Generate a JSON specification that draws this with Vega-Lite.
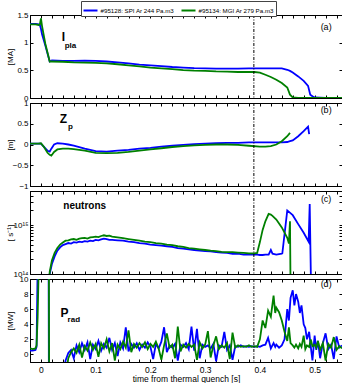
{
"$schema": "https://vega.github.io/schema/vega-lite/v6.json",
"padding": {"left": 5, "top": 0, "right": 0, "bottom": 0},
"spacing": 5,
"bounds": "flush",
"config": {
 "font": "Liberation Sans",
 "view": {"stroke": "black", "strokeWidth": 1},
 "axis": {"grid": false, "labelFont": "Liberation Sans", "labelFontSize": 8, "labelColor": "black", "tickColor": "black", "domainColor": "black", "tickSize": -3, "labelPadding": 5, "titleFont": "Liberation Sans", "titleFontSize": 8, "titleFontWeight": "normal", "titleColor": "black", "format": "~r"},
 "legend": {"orient": "none", "legendX": 51, "legendY": -14, "direction": "horizontal", "title": null, "symbolType": "stroke", "symbolSize": 196, "symbolStrokeWidth": 2, "labelFont": "Liberation Sans", "labelFontSize": 6.2, "labelColor": "black", "labelLimit": 300, "strokeColor": "#444", "fillColor": "white", "padding": 1.5, "columnPadding": 3, "labelOffset": 2}
},
"datasets": {
 "one": [{}],
 "ip": [
  {"t":-0.02,"b":1.34,"g":1.33},{"t":-0.01,"b":1.34,"g":1.33},{"t":-0.004,"b":1.33,"g":1.32},{"t":-0.002,"b":1.32,"g":1.33},
  {"t":0.0,"b":1.25,"g":1.44},{"t":0.002,"b":1.15,"g":1.3},{"t":0.008,"b":0.95,"g":0.98},{"t":0.016,"b":0.66,"g":0.66},
  {"t":0.02,"b":0.68,"g":0.66},{"t":0.04,"b":0.67,"g":0.655},{"t":0.06,"b":0.67,"g":0.645},{"t":0.08,"b":0.675,"g":0.64},
  {"t":0.1,"b":0.67,"g":0.635},{"t":0.12,"b":0.66,"g":0.625},{"t":0.14,"b":0.645,"g":0.61},{"t":0.16,"b":0.625,"g":0.59},
  {"t":0.18,"b":0.605,"g":0.57},{"t":0.2,"b":0.59,"g":0.55},{"t":0.22,"b":0.575,"g":0.535},{"t":0.24,"b":0.56,"g":0.52},
  {"t":0.26,"b":0.55,"g":0.505},{"t":0.28,"b":0.54,"g":0.495},{"t":0.3,"b":0.535,"g":0.49},{"t":0.32,"b":0.53,"g":0.48},
  {"t":0.34,"b":0.53,"g":0.475},{"t":0.36,"b":0.53,"g":0.47},{"t":0.38,"b":0.535,"g":0.47},{"t":0.39,"b":0.535,"g":0.47},
  {"t":0.4,"b":0.535,"g":0.46},{"t":0.41,"b":0.535,"g":0.42},{"t":0.42,"b":0.535,"g":0.38},{"t":0.43,"b":0.535,"g":0.33},
  {"t":0.44,"b":0.535,"g":0.27},{"t":0.45,"b":0.51,"g":0.19},{"t":0.455,"b":0.49,"g":0.06},{"t":0.46,"b":0.46,"g":0.01},
  {"t":0.47,"b":0.39,"g":0},{"t":0.48,"b":0.31,"g":0},{"t":0.488,"b":0.22,"g":0},{"t":0.492,"b":0.06,"g":0},
  {"t":0.496,"b":0.03,"g":0},{"t":0.5,"b":0.01,"g":0},{"t":0.52,"b":0,"g":0},{"t":0.55,"b":0,"g":0}
 ],
 "zp": [
  {"t":-0.02,"b":0.02,"g":0.02},{"t":-0.005,"b":0.02,"g":0.02},{"t":0.0,"b":0.02,"g":0.03},{"t":0.005,"b":-0.05,"g":-0.05},
  {"t":0.012,"b":-0.15,"g":-0.2},{"t":0.016,"b":-0.17,"g":-0.25},{"t":0.019,"b":-0.1,"g":-0.27},{"t":0.024,"b":0.0,"g":-0.18},
  {"t":0.03,"b":0.03,"g":-0.12},{"t":0.04,"b":0.02,"g":-0.1},{"t":0.05,"b":0.0,"g":-0.1},{"t":0.06,"b":-0.03,"g":-0.11},
  {"t":0.08,"b":-0.1,"g":-0.15},{"t":0.1,"b":-0.16,"g":-0.2},{"t":0.12,"b":-0.17,"g":-0.21},{"t":0.14,"b":-0.15,"g":-0.2},
  {"t":0.16,"b":-0.13,"g":-0.18},{"t":0.18,"b":-0.1,"g":-0.15},{"t":0.2,"b":-0.08,"g":-0.12},{"t":0.22,"b":-0.05,"g":-0.09},
  {"t":0.24,"b":-0.03,"g":-0.06},{"t":0.26,"b":-0.01,"g":-0.04},{"t":0.28,"b":0.01,"g":-0.02},{"t":0.3,"b":0.02,"g":-0.01},
  {"t":0.32,"b":0.03,"g":0.0},{"t":0.34,"b":0.04,"g":0.0},{"t":0.36,"b":0.04,"g":-0.01},{"t":0.38,"b":0.05,"g":-0.03},
  {"t":0.4,"b":0.05,"g":-0.05},{"t":0.41,"b":0.05,"g":-0.05},{"t":0.42,"b":0.05,"g":-0.04},{"t":0.43,"b":0.05,"g":0.0},
  {"t":0.44,"b":0.05,"g":0.08},{"t":0.45,"b":0.06,"g":0.2},{"t":0.455,"b":0.08,"g":0.28},{"t":0.46,"b":0.1},
  {"t":0.47,"b":0.2},{"t":0.48,"b":0.32},{"t":0.488,"b":0.43},{"t":0.49,"b":0.25}
 ],
 "ne": [
  {"t":0.014,"b":5e13,"g":5e13},{"t":0.016,"b":1.0e14,"g":1.1e14},{"t":0.02,"b":1.6e14,"g":1.9e14},{"t":0.025,"b":2.3e14,"g":2.7e14},
  {"t":0.03,"b":3.0e14,"g":3.4e14},{"t":0.035,"b":3.5e14,"g":4.0e14},{"t":0.04,"b":3.9e14,"g":4.4e14},{"t":0.045,"b":4.1e14,"g":4.8e14},
  {"t":0.05,"b":4.3e14,"g":4.9e14},{"t":0.055,"b":4.2e14,"g":5.1e14},{"t":0.06,"b":4.5e14,"g":5.2e14},{"t":0.065,"b":4.4e14,"g":5.0e14},
  {"t":0.07,"b":4.6e14,"g":5.3e14},{"t":0.075,"b":4.5e14,"g":5.4e14},{"t":0.08,"b":4.7e14,"g":5.5e14},{"t":0.085,"b":4.6e14,"g":5.3e14},
  {"t":0.09,"b":4.8e14,"g":5.6e14},{"t":0.095,"b":4.7e14,"g":5.7e14},{"t":0.1,"b":5.0e14,"g":5.8e14},{"t":0.105,"b":4.9e14,"g":5.7e14},
  {"t":0.11,"b":5.1e14,"g":6.0e14},{"t":0.115,"b":5.3e14,"g":6.2e14},{"t":0.12,"b":5.2e14,"g":6.0e14},{"t":0.125,"b":5.0e14,"g":6.1e14},
  {"t":0.13,"b":5.0e14,"g":5.8e14},{"t":0.14,"b":4.9e14,"g":5.6e14},{"t":0.15,"b":4.8e14,"g":5.4e14},{"t":0.16,"b":4.6e14,"g":5.2e14},
  {"t":0.17,"b":4.5e14,"g":5.0e14},{"t":0.18,"b":4.3e14,"g":4.8e14},{"t":0.19,"b":4.2e14,"g":4.6e14},{"t":0.2,"b":4.0e14,"g":4.5e14},
  {"t":0.21,"b":3.9e14,"g":4.3e14},{"t":0.22,"b":3.8e14,"g":4.2e14},{"t":0.23,"b":3.7e14,"g":4.0e14},{"t":0.24,"b":3.6e14,"g":3.9e14},
  {"t":0.25,"b":3.4e14,"g":3.7e14},{"t":0.26,"b":3.3e14,"g":3.6e14},{"t":0.27,"b":3.2e14,"g":3.4e14},{"t":0.28,"b":3.1e14,"g":3.3e14},
  {"t":0.29,"b":3.0e14,"g":3.2e14},{"t":0.3,"b":2.95e14,"g":3.1e14},{"t":0.31,"b":2.9e14,"g":3.0e14},{"t":0.32,"b":2.8e14,"g":2.95e14},
  {"t":0.33,"b":2.75e14,"g":2.85e14},{"t":0.34,"b":2.7e14,"g":2.8e14},{"t":0.35,"b":2.6e14,"g":2.8e14},{"t":0.36,"b":2.6e14,"g":2.75e14},
  {"t":0.37,"b":2.5e14,"g":2.7e14},{"t":0.38,"b":2.5e14,"g":2.65e14},{"t":0.39,"b":2.5e14,"g":2.65e14},{"t":0.395,"b":2.5e14,"g":2.7e14},
  {"t":0.4,"b":2.45e14,"g":4.5e14},{"t":0.405,"b":2.45e14,"g":8e14},{"t":0.41,"b":2.5e14,"g":1.2e15},{"t":0.416,"b":2.5e14,"g":1.7e15},
  {"t":0.42,"b":3.1e14,"g":1.65e15},{"t":0.423,"b":2.6e14,"g":1.55e15},{"t":0.43,"b":2.5e14,"g":1.3e15},{"t":0.44,"b":2.6e14,"g":9e14},
  {"t":0.441,"b":2.65e14},{"t":0.45,"b":2.0e15,"g":5.5e14},{"t":0.453,"g":4.2e14},{"t":0.455,"g":1.2e15},{"t":0.456,"g":5e13},
  {"t":0.46,"b":1.6e15},{"t":0.47,"b":1.05e15},{"t":0.48,"b":7e14},{"t":0.489,"b":4.6e14},{"t":0.491,"b":2.7e15},{"t":0.4935,"b":5e13}
 ],
 "pr": [
  {"t":-0.02,"b":0.5,"g":0.8},{"t":-0.015,"b":0.5,"g":0.7},{"t":-0.01,"b":0.6,"g":0.8},{"t":-0.008,"b":1.0,"g":1.2},
  {"t":-0.006,"b":12,"g":5},{"t":-0.004,"b":12,"g":12},{"t":0.014,"b":12,"g":12},{"t":0.0145,"b":-3,"g":12},{"t":0.015,"b":-3,"g":-3},
  {"t":0.04,"b":-3,"g":-3},{"t":0.045,"b":-0.8,"g":-3},{"t":0.05,"b":0.2,"g":-0.5},{"t":0.055,"b":0.6,"g":0.3},
  {"t":0.06,"b":-0.5,"g":0.8},{"t":0.065,"b":1.2,"g":0.2},{"t":0.07,"b":0.3,"g":1.3},{"t":0.075,"b":1.5,"g":-0.4},
  {"t":0.08,"b":0.6,"g":1.1},{"t":0.085,"b":1.6,"g":0.5},{"t":0.09,"b":-0.6,"g":1.6},{"t":0.095,"b":1.3,"g":0.6},
  {"t":0.1,"b":0.7,"g":1.4},{"t":0.105,"b":1.8,"g":-0.3},{"t":0.11,"b":0.5,"g":1.5},{"t":0.115,"b":1.4,"g":0.8},
  {"t":0.12,"b":0.9,"g":2.0},{"t":0.125,"b":2.2,"g":0.4},{"t":0.13,"b":0.6,"g":1.5},{"t":0.135,"b":1.5,"g":-0.8},
  {"t":0.14,"b":-0.2,"g":1.3},{"t":0.145,"b":1.6,"g":0.7},{"t":0.15,"b":0.8,"g":1.7},{"t":0.155,"b":3.6,"g":0.9},
  {"t":0.16,"b":0.4,"g":3.2},{"t":0.165,"b":1.4,"g":0.3},{"t":0.17,"b":0.9,"g":1.4},{"t":0.175,"b":1.5,"g":0.9},
  {"t":0.18,"b":0.6,"g":1.5},{"t":0.185,"b":1.3,"g":1.0},{"t":0.19,"b":0.9,"g":1.6},{"t":0.195,"b":1.6,"g":0.7},
  {"t":0.2,"b":1.0,"g":1.4},{"t":0.205,"b":-0.6,"g":1.0},{"t":0.21,"b":1.4,"g":1.7},{"t":0.215,"b":0.8,"g":0.8},
  {"t":0.22,"b":1.7,"g":-0.7},{"t":0.225,"b":3.6,"g":1.2},{"t":0.23,"b":0.3,"g":2.8},{"t":0.235,"b":1.2,"g":0.9},
  {"t":0.24,"b":0.9,"g":1.3},{"t":0.245,"b":1.4,"g":-0.5},{"t":0.25,"b":-0.8,"g":3.7},{"t":0.255,"b":1.3,"g":0.4},
  {"t":0.26,"b":1.0,"g":1.3},{"t":0.265,"b":1.5,"g":0.9},{"t":0.27,"b":0.7,"g":1.4},{"t":0.275,"b":3.7,"g":1.0},
  {"t":0.28,"b":0.5,"g":1.3},{"t":0.285,"b":3.4,"g":-0.7},{"t":0.29,"b":-0.5,"g":1.6},{"t":0.295,"b":1.3,"g":0.8},
  {"t":0.3,"b":1.0,"g":1.3},{"t":0.305,"b":1.2,"g":3.1},{"t":0.31,"b":0.8,"g":-0.4},{"t":0.315,"b":1.4,"g":1.2},
  {"t":0.32,"b":-0.9,"g":2.4},{"t":0.325,"b":1.2,"g":0.7},{"t":0.33,"b":1.0,"g":1.2},{"t":0.335,"b":3.0,"g":0.9},
  {"t":0.34,"b":0.6,"g":1.5},{"t":0.345,"b":1.2,"g":-0.6},{"t":0.35,"b":-0.7,"g":2.9},{"t":0.355,"b":1.1,"g":0.9},
  {"t":0.36,"b":1.0,"g":1.2},{"t":0.365,"b":1.2,"g":1.0},{"t":0.37,"b":1.0,"g":1.1},{"t":0.375,"b":1.1,"g":1.0},
  {"t":0.38,"b":1.0,"g":1.2},{"t":0.385,"b":1.1,"g":1.0},{"t":0.39,"b":1.0,"g":1.1},{"t":0.395,"b":1.1,"g":1.0},
  {"t":0.4,"b":1.0,"g":2.0},{"t":0.405,"b":1.2,"g":4.5},{"t":0.41,"b":1.3,"g":3.5},{"t":0.415,"b":2.2,"g":5.8},
  {"t":0.42,"b":0.8,"g":5.0},{"t":0.425,"b":1.5,"g":7.8},{"t":0.428,"b":1.0,"g":5.5},{"t":0.43,"b":1.3,"g":6.2},
  {"t":0.435,"b":0.9,"g":5.6},{"t":0.44,"b":1.2,"g":4.5},{"t":0.445,"b":2.0,"g":3.0},{"t":0.45,"b":6.0,"g":1.8},
  {"t":0.453,"b":4.5,"g":3.6},{"t":0.456,"b":7.5,"g":1.5},{"t":0.46,"b":8.5,"g":1.2},{"t":0.463,"b":6.5,"g":0.9},
  {"t":0.466,"b":8.0,"g":1.3},{"t":0.47,"b":7.0,"g":0.8},{"t":0.473,"b":5.5,"g":1.4},{"t":0.476,"b":6.5,"g":1.0},
  {"t":0.48,"b":4.0,"g":2.5},{"t":0.483,"b":3.5,"g":0.7},{"t":0.486,"b":2.0,"g":1.2},{"t":0.49,"b":3.0,"g":1.0},
  {"t":0.493,"b":1.0,"g":2.0},{"t":0.496,"b":-0.8,"g":1.1},{"t":0.5,"b":2.5,"g":1.3},{"t":0.503,"b":0.6,"g":0.9},
  {"t":0.506,"b":1.8,"g":1.8},{"t":0.51,"b":-0.5,"g":0.6},{"t":0.515,"b":1.5,"g":1.5},{"t":0.52,"b":2.8,"g":-0.8},
  {"t":0.525,"b":0.7,"g":1.4},{"t":0.53,"b":1.3,"g":0.9},{"t":0.535,"b":-0.6,"g":2.3},{"t":0.54,"b":2.4,"g":0.6},
  {"t":0.545,"b":0.9,"g":1.1},{"t":0.55,"b":1.2,"g":0.8}
 ]
},
"vconcat": [
 {
  "width": 312, "height": 83,
  "resolve": {"axis": {"x": "independent", "y": "independent"}},
  "layer": [
   {
    "data": {"name": "ip"},
    "transform": [{"fold": ["b","g"], "as": ["s","v"]}, {"filter": "isValid(datum.v)"}],
    "mark": {"type": "line", "strokeWidth": 1.8, "clip": true},
    "encoding": {
     "x": {"field": "t", "type": "quantitative", "scale": {"domain": [-0.02, 0.55], "nice": false, "zero": false}, "axis": {"labels": false, "title": null, "values": [0,0.02,0.04,0.06,0.08,0.1,0.12,0.14,0.16,0.18,0.2,0.22,0.24,0.26,0.28,0.3,0.32,0.34,0.36,0.38,0.4,0.42,0.44,0.46,0.48,0.5,0.52,0.54]}},
     "y": {"field": "v", "type": "quantitative", "scale": {"domain": [0, 1.5], "nice": false, "zero": false}, "axis": {"title": "[MA]", "titleX": -16, "values": [0,0.5,1,1.5]}},
     "color": {"field": "s", "type": "nominal", "scale": {"domain": ["b","g"], "range": ["#0000ff","#008000"]}, "legend": {"labelExpr": "datum.label == 'b' ? '#95128: SPI Ar 244 Pa.m3' : '#95134: MGI Ar 279 Pa.m3'"}}
    }
   },
   {"data": {"name": "one"}, "mark": {"type": "rule", "color": "black", "strokeWidth": 1, "strokeDash": [3,1.5,1,1.5]}, "encoding": {"x": {"datum": 0.389, "type": "quantitative", "axis": null}}},
   {"data": {"name": "one"}, "mark": {"type": "text", "fontSize": 9, "color": "black"}, "encoding": {
     "x": {"datum": 0.521, "type": "quantitative", "axis": {"orient": "top", "labels": false, "title": null, "values": [0,0.02,0.04,0.06,0.08,0.1,0.12,0.14,0.16,0.18,0.2,0.22,0.24,0.26,0.28,0.3,0.32,0.34,0.36,0.38,0.4,0.42,0.44,0.46,0.48,0.5,0.52,0.54]}},
     "y": {"datum": 1.28, "type": "quantitative", "axis": {"orient": "right", "labels": false, "title": null, "values": [0,0.5,1,1.5]}},
     "text": {"value": "(a)"}}},
   {"data": {"name": "one"}, "mark": {"type": "text", "fontSize": 12, "fontWeight": "bold", "color": "black"}, "encoding": {"x": {"datum": 0.041, "type": "quantitative", "axis": null}, "y": {"datum": 1.1, "type": "quantitative", "axis": null}, "text": {"value": "I"}}},
   {"data": {"name": "one"}, "mark": {"type": "text", "fontSize": 8, "fontWeight": "bold", "color": "black"}, "encoding": {"x": {"datum": 0.054, "type": "quantitative", "axis": null}, "y": {"datum": 0.94, "type": "quantitative", "axis": null}, "text": {"value": "pla"}}}
  ]
 },
 {
  "width": 312, "height": 83,
  "resolve": {"axis": {"x": "independent", "y": "independent"}},
  "layer": [
   {
    "data": {"name": "zp"},
    "transform": [{"fold": ["b","g"], "as": ["s","v"]}, {"filter": "isValid(datum.v)"}],
    "mark": {"type": "line", "strokeWidth": 1.8, "clip": true},
    "encoding": {
     "x": {"field": "t", "type": "quantitative", "scale": {"domain": [-0.02, 0.55], "nice": false, "zero": false}, "axis": {"labels": false, "title": null, "values": [0,0.02,0.04,0.06,0.08,0.1,0.12,0.14,0.16,0.18,0.2,0.22,0.24,0.26,0.28,0.3,0.32,0.34,0.36,0.38,0.4,0.42,0.44,0.46,0.48,0.5,0.52,0.54]}},
     "y": {"field": "v", "type": "quantitative", "scale": {"domain": [-1, 1], "nice": false, "zero": false}, "axis": {"title": "[m]", "titleX": -16, "values": [-1,-0.5,0,0.5,1]}},
     "color": {"field": "s", "type": "nominal", "scale": {"domain": ["b","g"], "range": ["#0000ff","#008000"]}, "legend": {"labelExpr": "datum.label == 'b' ? '#95128: SPI Ar 244 Pa.m3' : '#95134: MGI Ar 279 Pa.m3'"}}
    }
   },
   {"data": {"name": "one"}, "mark": {"type": "rule", "color": "black", "strokeWidth": 1, "strokeDash": [3,1.5,1,1.5]}, "encoding": {"x": {"datum": 0.389, "type": "quantitative", "axis": null}}},
   {"data": {"name": "one"}, "mark": {"type": "text", "fontSize": 9, "color": "black"}, "encoding": {
     "x": {"datum": 0.521, "type": "quantitative", "axis": {"orient": "top", "labels": false, "title": null, "values": [0,0.02,0.04,0.06,0.08,0.1,0.12,0.14,0.16,0.18,0.2,0.22,0.24,0.26,0.28,0.3,0.32,0.34,0.36,0.38,0.4,0.42,0.44,0.46,0.48,0.5,0.52,0.54]}},
     "y": {"datum": 0.82, "type": "quantitative", "axis": {"orient": "right", "labels": false, "title": null, "values": [-1,-0.5,0,0.5,1]}},
     "text": {"value": "(b)"}}},
   {"data": {"name": "one"}, "mark": {"type": "text", "fontSize": 12, "fontWeight": "bold", "color": "black"}, "encoding": {"x": {"datum": 0.041, "type": "quantitative", "axis": null}, "y": {"datum": 0.62, "type": "quantitative", "axis": null}, "text": {"value": "Z"}}},
   {"data": {"name": "one"}, "mark": {"type": "text", "fontSize": 8, "fontWeight": "bold", "color": "black"}, "encoding": {"x": {"datum": 0.054, "type": "quantitative", "axis": null}, "y": {"datum": 0.43, "type": "quantitative", "axis": null}, "text": {"value": "p"}}}
  ]
 },
 {
  "width": 312, "height": 83,
  "resolve": {"axis": {"x": "independent", "y": "independent"}},
  "layer": [
   {
    "data": {"name": "ne"},
    "transform": [{"fold": ["b","g"], "as": ["s","v"]}, {"filter": "isValid(datum.v)"}],
    "mark": {"type": "line", "strokeWidth": 1.8, "clip": true},
    "encoding": {
     "x": {"field": "t", "type": "quantitative", "scale": {"domain": [-0.02, 0.55], "nice": false, "zero": false}, "axis": {"labels": false, "title": null, "values": [0,0.02,0.04,0.06,0.08,0.1,0.12,0.14,0.16,0.18,0.2,0.22,0.24,0.26,0.28,0.3,0.32,0.34,0.36,0.38,0.4,0.42,0.44,0.46,0.48,0.5,0.52,0.54]}},
     "y": {"field": "v", "type": "quantitative", "scale": {"type": "log", "domain": [1e14, 5e15], "nice": false}, "axis": {"title": "[ s⁻¹]", "titleX": -16, "values": [1e14,2e14,3e14,4e14,5e14,6e14,7e14,8e14,9e14,1e15,2e15,3e15,4e15,5e15], "labelExpr": "datum.value == 1e14 ? '10¹⁴' : (datum.value == 1e15 ? '10¹⁵' : '')"}},
     "color": {"field": "s", "type": "nominal", "scale": {"domain": ["b","g"], "range": ["#0000ff","#008000"]}, "legend": {"labelExpr": "datum.label == 'b' ? '#95128: SPI Ar 244 Pa.m3' : '#95134: MGI Ar 279 Pa.m3'"}}
    }
   },
   {"data": {"name": "one"}, "mark": {"type": "rule", "color": "black", "strokeWidth": 1, "strokeDash": [3,1.5,1,1.5]}, "encoding": {"x": {"datum": 0.389, "type": "quantitative", "axis": null}}},
   {"data": {"name": "one"}, "mark": {"type": "text", "fontSize": 9, "color": "black"}, "encoding": {
     "x": {"datum": 0.521, "type": "quantitative", "axis": {"orient": "top", "labels": false, "title": null, "values": [0,0.02,0.04,0.06,0.08,0.1,0.12,0.14,0.16,0.18,0.2,0.22,0.24,0.26,0.28,0.3,0.32,0.34,0.36,0.38,0.4,0.42,0.44,0.46,0.48,0.5,0.52,0.54]}},
     "y": {"datum": 3.4e15, "type": "quantitative", "axis": {"orient": "right", "labels": false, "title": null, "values": [1e14,2e14,3e14,4e14,5e14,6e14,7e14,8e14,9e14,1e15,2e15,3e15,4e15,5e15]}},
     "text": {"value": "(c)"}}},
   {"data": {"name": "one"}, "mark": {"type": "text", "fontSize": 10, "fontWeight": "bold", "color": "black"}, "encoding": {"x": {"datum": 0.08, "type": "quantitative", "axis": null}, "y": {"datum": 2.5e15, "type": "quantitative", "axis": null}, "text": {"value": "neutrons"}}}
  ]
 },
 {
  "width": 312, "height": 83,
  "resolve": {"axis": {"x": "independent", "y": "independent"}},
  "layer": [
   {
    "data": {"name": "pr"},
    "transform": [{"fold": ["b","g"], "as": ["s","v"]}, {"filter": "isValid(datum.v)"}],
    "mark": {"type": "line", "strokeWidth": 1.8, "clip": true},
    "encoding": {
     "x": {"field": "t", "type": "quantitative", "scale": {"domain": [-0.02, 0.55], "nice": false, "zero": false}, "axis": {"title": "time from thermal quench [s]", "titleFontSize": 8.5, "labelFontSize": 8.5, "labelPadding": 6, "titlePadding": 1, "values": [0,0.02,0.04,0.06,0.08,0.1,0.12,0.14,0.16,0.18,0.2,0.22,0.24,0.26,0.28,0.3,0.32,0.34,0.36,0.38,0.4,0.42,0.44,0.46,0.48,0.5,0.52,0.54], "labelExpr": "abs(datum.value * 10 - round(datum.value * 10)) < 0.001 ? format(datum.value, '.1~f') : ''"}},
     "y": {"field": "v", "type": "quantitative", "scale": {"domain": [-1, 10], "nice": false, "zero": false}, "axis": {"title": "[MW]", "titleX": -16, "values": [0,2,4,6,8,10]}},
     "color": {"field": "s", "type": "nominal", "scale": {"domain": ["b","g"], "range": ["#0000ff","#008000"]}, "legend": {"labelExpr": "datum.label == 'b' ? '#95128: SPI Ar 244 Pa.m3' : '#95134: MGI Ar 279 Pa.m3'"}}
    }
   },
   {"data": {"name": "one"}, "mark": {"type": "rule", "color": "black", "strokeWidth": 1, "strokeDash": [3,1.5,1,1.5]}, "encoding": {"x": {"datum": 0.389, "type": "quantitative", "axis": null}}},
   {"data": {"name": "one"}, "mark": {"type": "text", "fontSize": 9, "color": "black"}, "encoding": {
     "x": {"datum": 0.521, "type": "quantitative", "axis": {"orient": "top", "labels": false, "title": null, "values": [0,0.02,0.04,0.06,0.08,0.1,0.12,0.14,0.16,0.18,0.2,0.22,0.24,0.26,0.28,0.3,0.32,0.34,0.36,0.38,0.4,0.42,0.44,0.46,0.48,0.5,0.52,0.54]}},
     "y": {"datum": 9.3, "type": "quantitative", "axis": {"orient": "right", "labels": false, "title": null, "values": [0,2,4,6,8,10]}},
     "text": {"value": "(d)"}}},
   {"data": {"name": "one"}, "mark": {"type": "text", "fontSize": 12, "fontWeight": "bold", "color": "black"}, "encoding": {"x": {"datum": 0.043, "type": "quantitative", "axis": null}, "y": {"datum": 5.5, "type": "quantitative", "axis": null}, "text": {"value": "P"}}},
   {"data": {"name": "one"}, "mark": {"type": "text", "fontSize": 8, "fontWeight": "bold", "color": "black"}, "encoding": {"x": {"datum": 0.06, "type": "quantitative", "axis": null}, "y": {"datum": 4.6, "type": "quantitative", "axis": null}, "text": {"value": "rad"}}}
  ]
 }
]
}
